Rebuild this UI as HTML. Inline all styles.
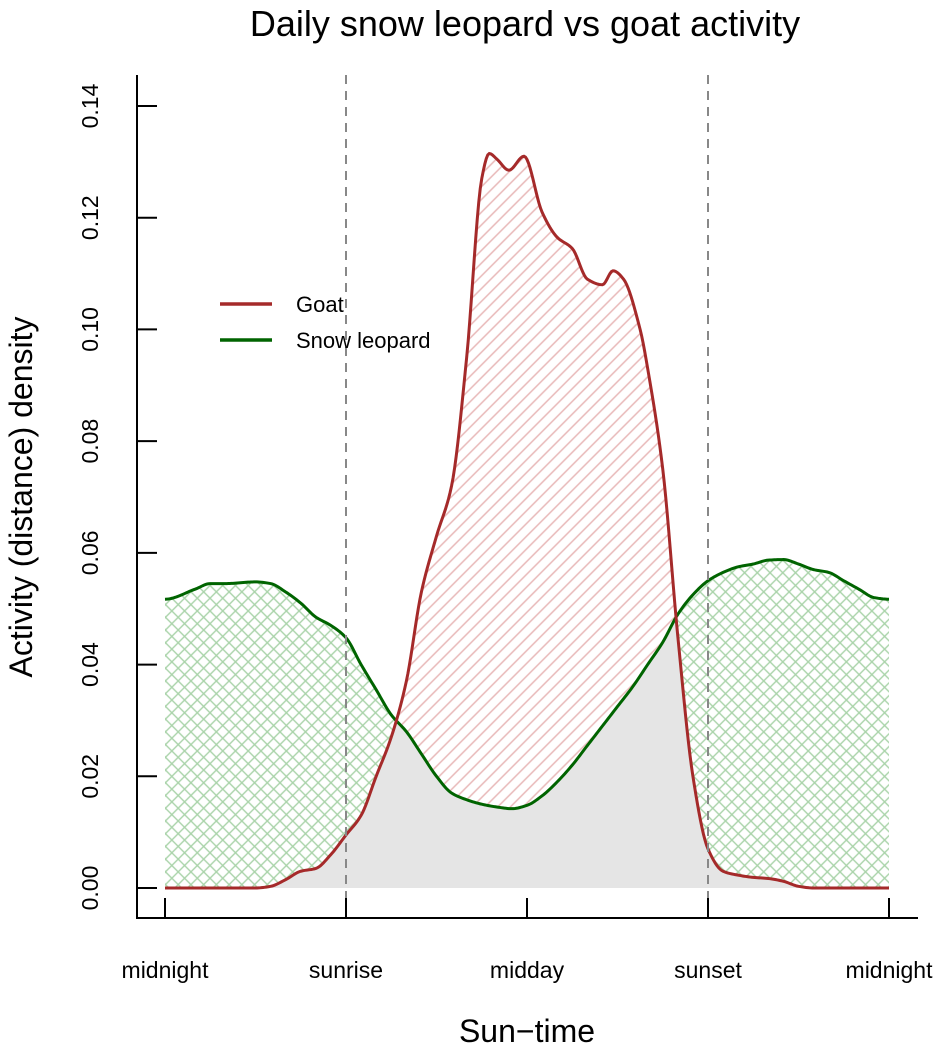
<!DOCTYPE html>
<html><head><meta charset="utf-8"><style>
body{margin:0;background:#fff}
svg{display:block;font-family:"Liberation Sans",sans-serif}
</style></head><body>
<svg id="chart" width="944" height="1050" viewBox="0 0 944 1050">
<defs>
<pattern id="hatch" patternUnits="userSpaceOnUse" width="9" height="9" patternTransform="rotate(-45)">
<rect width="9" height="9" fill="#fff"/><line x1="0" y1="4.5" x2="9" y2="4.5" stroke="#e8b8b8" stroke-width="1.5"/></pattern>
<pattern id="cross" patternUnits="userSpaceOnUse" width="9" height="9" patternTransform="rotate(45)">
<rect width="9" height="9" fill="#fff"/><line x1="0" y1="4.5" x2="9" y2="4.5" stroke="#a9d3a9" stroke-width="1.4"/><line x1="4.5" y1="0" x2="4.5" y2="9" stroke="#a9d3a9" stroke-width="1.4"/></pattern>
</defs>
<text x="525" y="36" font-size="36" text-anchor="middle">Daily snow leopard vs goat activity</text>
<g id="plot"></g>
<text x="527" y="1042" font-size="32" text-anchor="middle">Sun−time</text>
<text transform="translate(32,497) rotate(-90)" font-size="32" text-anchor="middle">Activity (distance) density</text>
<g>
<line x1="220" y1="304" x2="272" y2="304" stroke="#a52a2a" stroke-width="3.5"/>
<text x="296" y="312" font-size="22">Goat</text>
<line x1="220" y1="340" x2="272" y2="340" stroke="#006400" stroke-width="3.5"/>
<text x="296" y="348" font-size="22">Snow leopard</text>
</g>
</svg>
<script>
const goatHours=[0,3,3.5,4,4.5,5,5.5,6,6.5,7,7.5,8,8.5,9,9.5,10,10.5,10.75,11,11.4,11.9,12.5,13,13.5,14,14.5,14.85,15.2,15.75,16,16.5,17,17.5,18,18.5,19,19.5,20,20.5,21,21.5,24];
const goatValues=[0,0,0.0003,0.0015,0.003,0.0035,0.006,0.0095,0.013,0.02,0.027,0.037,0.053,0.063,0.072,0.095,0.127,0.1315,0.1305,0.1285,0.131,0.121,0.1165,0.1145,0.109,0.108,0.1105,0.109,0.1,0.093,0.075,0.045,0.02,0.007,0.003,0.0023,0.0019,0.0017,0.0012,0.0003,0,0];
const leopardHours=[0,1,1.5,2,3,3.5,4,4.5,5,5.5,6,6.5,7,7.5,8,8.5,9,9.5,10,10.5,11,11.5,12,12.5,13,13.5,14,14.5,15,15.5,16,16.5,17,17.5,18,18.5,19,19.5,20,20.5,21,21.5,22,22.5,23,23.5,24];
const leopardValues=[0.0517,0.0535,0.0545,0.0545,0.0548,0.0545,0.053,0.051,0.0485,0.047,0.0448,0.04,0.0355,0.031,0.028,0.024,0.02,0.017,0.0158,0.015,0.0145,0.0142,0.0148,0.0165,0.019,0.022,0.0255,0.029,0.0325,0.036,0.04,0.044,0.049,0.0525,0.055,0.0565,0.0575,0.058,0.0587,0.0588,0.058,0.057,0.0565,0.055,0.0535,0.052,0.0517];
const yTicks=[0,0.02,0.04,0.06,0.08,0.10,0.12,0.14];
const yTickLabels=["0.00","0.02","0.04","0.06","0.08","0.10","0.12","0.14"];
const xTicks=[0,6,12,18,24];
const xTickLabels=["midnight","sunrise","midday","sunset","midnight"];
const sx=h=>165+h*(724/24);
const sy=v=>888-v*(782/0.14);
const NS="http://www.w3.org/2000/svg";
const plot=document.getElementById('plot');
function mk(t,a){const e=document.createElementNS(NS,t);for(const k in a)e.setAttribute(k,a[k]);plot.appendChild(e);return e;}
function interp(hs,vs,h){
  const n=hs.length;
  for(let i=1;i<n;i++){if(h<=hs[i]){
    const x0=hs[i-1],x1=hs[i],y0=vs[i-1],y1=vs[i],dx=x1-x0,t=(h-x0)/dx;
    const m=(j)=>{if(j<=0||j>=n-1)return 0;const a=(vs[j]-vs[j-1])/(hs[j]-hs[j-1]),b=(vs[j+1]-vs[j])/(hs[j+1]-hs[j]);if(a*b<=0)return 0;return 2/(1/a+1/b);};
    const m0=m(i-1)*dx,m1=m(i)*dx,t2=t*t,t3=t2*t;
    return Math.max(0,(2*t3-3*t2+1)*y0+(t3-2*t2+t)*m0+(-2*t3+3*t2)*y1+(t3-t2)*m1);
  }}
  return vs[n-1];}
const grid=[];for(let h=0;h<=24.0001;h+=0.05)grid.push(Math.min(h,24));
function area(f){return 'M'+sx(0)+','+sy(0)+grid.map(h=>'L'+sx(h).toFixed(2)+','+sy(f(h)).toFixed(2)).join('')+'L'+sx(24)+','+sy(0)+'Z';}
const g=h=>interp(goatHours,goatValues,h), l=h=>interp(leopardHours,leopardValues,h);
let e;
e=mk('path',{d:area(g),fill:'url(#hatch)'});


e=mk('path',{d:area(l),fill:'url(#cross)'});


e=mk('path',{d:area(h=>Math.min(g(h),l(h))),fill:'#e5e5e5'});


function line(f){return grid.map((h,i)=>(i?'L':'M')+sx(h).toFixed(2)+','+sy(f(h)).toFixed(2)).join('');}
e=mk('path',{d:line(l),fill:'none',stroke:'#006400','stroke-width':3});


e=mk('path',{d:line(g),fill:'none',stroke:'#a52a2a','stroke-width':3});


[6,18].forEach((h,i)=>{const d=mk('line',{x1:sx(h),x2:sx(h),y1:75,y2:918,stroke:'#888','stroke-width':2,'stroke-dasharray':'9,7'});

});
e=mk('path',{d:'M137,75L137,918L918,918',fill:'none',stroke:'#000','stroke-width':2});


yTicks.forEach((v,i)=>{const t=mk('line',{x1:137,x2:157,y1:sy(v),y2:sy(v),stroke:'#000','stroke-width':2});


const tx=mk('text',{transform:`translate(98,${sy(v)}) rotate(-90)`,'font-size':23,'text-anchor':'middle'});tx.textContent=yTickLabels[i];

});
xTicks.forEach((h,i)=>{const t=mk('line',{x1:sx(h),x2:sx(h),y1:898,y2:918,stroke:'#000','stroke-width':2});


const tx=mk('text',{x:sx(h),y:978,'font-size':23,'text-anchor':'middle'});tx.textContent=xTickLabels[i];

});
</script>
</body></html>
